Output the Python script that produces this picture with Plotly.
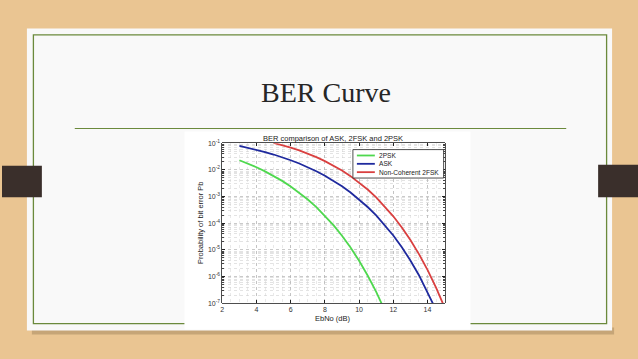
import plotly.graph_objects as go

# ---- data ----
ebno_2psk = [3.0, 3.5, 4.0, 4.5, 5.0, 5.5, 6.0, 6.5, 7.0, 7.5, 8.0, 8.5, 9.0, 9.5, 10.0, 10.5, 11.0, 11.5]
ber_2psk = [2.29e-2, 1.72e-2, 1.25e-2, 8.79e-3, 5.95e-3, 3.86e-3, 2.39e-3, 1.40e-3, 7.73e-4, 3.99e-4,
            1.91e-4, 8.40e-5, 3.36e-5, 1.21e-5, 3.87e-6, 1.08e-6, 2.61e-7, 5.33e-8]

ebno_ask = [3.0, 3.5, 4.0, 4.5, 5.0, 5.5, 6.0, 6.5, 7.0, 7.5, 8.0, 8.5, 9.0, 9.5, 10.0, 10.5, 11.0, 11.5,
            12.0, 12.5, 13.0, 13.5, 14.0, 14.5]
ber_ask = [7.89e-2, 6.73e-2, 5.65e-2, 4.66e-2, 3.77e-2, 2.98e-2, 2.30e-2, 1.73e-2, 1.26e-2, 8.86e-3,
           6.01e-3, 3.90e-3, 2.41e-3, 1.42e-3, 7.83e-4, 4.04e-4, 1.94e-4, 8.55e-5, 3.43e-5, 1.24e-5,
           3.97e-6, 1.11e-6, 2.69e-7, 5.5e-8]

ebno_fsk = [5.0, 5.5, 6.0, 6.5, 7.0, 7.5, 8.0, 8.5, 9.0, 9.5, 10.0, 10.5, 11.0, 11.5, 12.0, 12.5, 13.0,
            13.5, 14.0, 14.5, 15.0]
ber_fsk = [1.03e-1, 8.48e-2, 6.83e-2, 5.36e-2, 4.08e-2, 3.01e-2, 2.13e-2, 1.45e-2, 9.43e-3, 5.81e-3,
           3.37e-3, 1.83e-3, 9.23e-4, 4.28e-4, 1.81e-4, 6.87e-5, 2.32e-5, 6.88e-6, 1.75e-6, 3.79e-7, 6.8e-8]

series_names = ["2PSK", "ASK", "Non-Coherent 2FSK"]
series_colors = ["#4ed84e", "#1f2a9e", "#d94040"]
x_ticks = [2, 4, 6, 8, 10, 12, 14]
y_ticks = [1e-7, 1e-6, 1e-5, 1e-4, 1e-3, 1e-2, 1e-1]
y_ticklabels = ["10<sup>-7</sup>", "10<sup>-6</sup>", "10<sup>-5</sup>", "10<sup>-4</sup>",
                "10<sup>-3</sup>", "10<sup>-2</sup>", "10<sup>-1</sup>"]

slide_title = "BER Curve"
chart_title = "BER comparison of ASK, 2FSK and 2PSK"
x_title = "EbNo (dB)"
y_title = "Probability of bit error Pb"

# ---- geometry helpers (pixels -> paper) ----
W, H = 638, 359
def px(x):
    return x / W
def py(y):
    return 1 - y / H

WOOD = "#eac592"
GREEN_FRAME = "#6b8a3c"
TAB = "#3a2f2b"
FONT = "Liberation Sans, Arial, sans-serif"

fig = go.Figure()
for xs, ys, name, color in [(ebno_2psk, ber_2psk, series_names[0], series_colors[0]),
                            (ebno_ask, ber_ask, series_names[1], series_colors[1]),
                            (ebno_fsk, ber_fsk, series_names[2], series_colors[2])]:
    fig.add_trace(go.Scatter(x=xs, y=ys, mode="lines", name=name, showlegend=False,
                             line=dict(color=color, width=1.8)))

minor_y = [m * 10 ** e for e in range(-7, -1) for m in range(2, 10)]

shapes = [
    # card shadow
    dict(type="rect", xref="paper", yref="paper", x0=px(30), x1=px(614), y0=py(337), y1=py(330),
         fillcolor="rgba(90,70,40,0.25)", line=dict(width=0), layer="below"),
    # white card
    dict(type="rect", xref="paper", yref="paper", x0=px(25), x1=px(612), y0=py(333), y1=py(25),
         fillcolor="#f9f9f9", line=dict(width=0), layer="below"),
    # green inner frame
    dict(type="rect", xref="paper", yref="paper", x0=px(31.5), x1=px(606.5), y0=py(326), y1=py(31.5),
         fillcolor="rgba(0,0,0,0)", line=dict(color=GREEN_FRAME, width=1.3), layer="below"),
    # title underline
    dict(type="line", xref="paper", yref="paper", x0=px(73), x1=px(566), y0=py(127), y1=py(127),
         line=dict(color=GREEN_FRAME, width=1.2), layer="below"),
    # chart image background
    dict(type="rect", xref="paper", yref="paper", x0=px(183), x1=px(470), y0=py(332), y1=py(130),
         fillcolor="#ffffff", line=dict(width=0), layer="below"),
    # side tabs
    dict(type="rect", xref="paper", yref="paper", x0=0, x1=px(40), y0=py(197), y1=py(165),
         fillcolor=TAB, line=dict(width=0), layer="below"),
    dict(type="rect", xref="paper", yref="paper", x0=px(598), x1=1, y0=py(197), y1=py(164),
         fillcolor=TAB, line=dict(width=0), layer="below"),
    # legend box
    dict(type="rect", xref="paper", yref="paper", x0=px(352), x1=px(443), y0=py(177.5), y1=py(148.5),
         fillcolor="#ffffff", line=dict(color="#222", width=0.8), layer="above"),
]

annotations = [
    dict(text=slide_title, xref="paper", yref="paper", x=px(325), y=py(90), showarrow=False,
         xanchor="center", yanchor="middle",
         font=dict(family="Liberation Serif, DejaVu Serif, serif", size=28, color="#262626")),
    dict(text=chart_title, xref="paper", yref="paper", x=px(332), y=py(137), showarrow=False,
         xanchor="center", yanchor="middle", font=dict(family=FONT, size=7.5, color="#222")),
    dict(text=x_title, xref="paper", yref="paper", x=px(332), y=py(320.5), showarrow=False,
         xanchor="center", yanchor="middle", font=dict(family=FONT, size=7.5, color="#222")),
    dict(text=y_title, xref="paper", yref="paper", x=px(199), y=py(223), showarrow=False,
         textangle=-90, xanchor="center", yanchor="middle", font=dict(family=FONT, size=7.5, color="#222")),
]

# hand-drawn compact legend (matches MATLAB legend size)
legend_rows = [154.5, 163, 171.5]
for name, color, yrow in zip(series_names, series_colors, legend_rows):
    shapes.append(dict(type="line", xref="paper", yref="paper", x0=px(356), x1=px(374),
                       y0=py(yrow), y1=py(yrow), line=dict(color=color, width=1.8), layer="above"))
    annotations.append(dict(text=name, xref="paper", yref="paper", x=px(376), y=py(yrow),
                            showarrow=False, xanchor="left", yanchor="middle",
                            font=dict(family=FONT, size=6.6, color="#222")))

fig.update_layout(
    width=W, height=H,
    margin=dict(l=0, r=0, t=0, b=0),
    paper_bgcolor=WOOD,
    plot_bgcolor="#ffffff",
    shapes=shapes,
    annotations=annotations,
    showlegend=False,
    font=dict(family=FONT, size=7, color="#222"),
    xaxis=dict(domain=[px(221), px(444)], range=[2, 15], tickvals=x_ticks,
               ticktext=[str(v) for v in x_ticks],
               showline=True, linecolor="#222", linewidth=0.8, mirror="ticks",
               ticks="inside", ticklen=3, tickcolor="#222",
               showgrid=True, gridcolor="#b4b4b4", griddash="dot", gridwidth=0.7,
               minor=dict(dtick=0.5, showgrid=True, gridcolor="#dadada", griddash="dot", gridwidth=0.6),
               zeroline=False, tickfont=dict(size=7, color="#333")),
    yaxis=dict(domain=[py(305), py(142)], type="log", range=[-7, -1],
               tickvals=y_ticks, ticktext=y_ticklabels,
               showline=True, linecolor="#222", linewidth=0.8, mirror="ticks",
               ticks="inside", ticklen=3, tickcolor="#222",
               showgrid=True, gridcolor="#b4b4b4", griddash="dot", gridwidth=0.7,
               minor=dict(tickmode="array", tickvals=minor_y, showgrid=True,
                          gridcolor="#d0d0d0", griddash="dot", gridwidth=0.6,
                          ticks="inside", ticklen=2, tickcolor="#444"),
               zeroline=False, tickfont=dict(size=7, color="#333")),
)

fig.write_html("out.html", config={"displayModeBar": False, "staticPlot": True},
               post_script="document.body.style.margin='0px';document.body.style.overflow='hidden';")
